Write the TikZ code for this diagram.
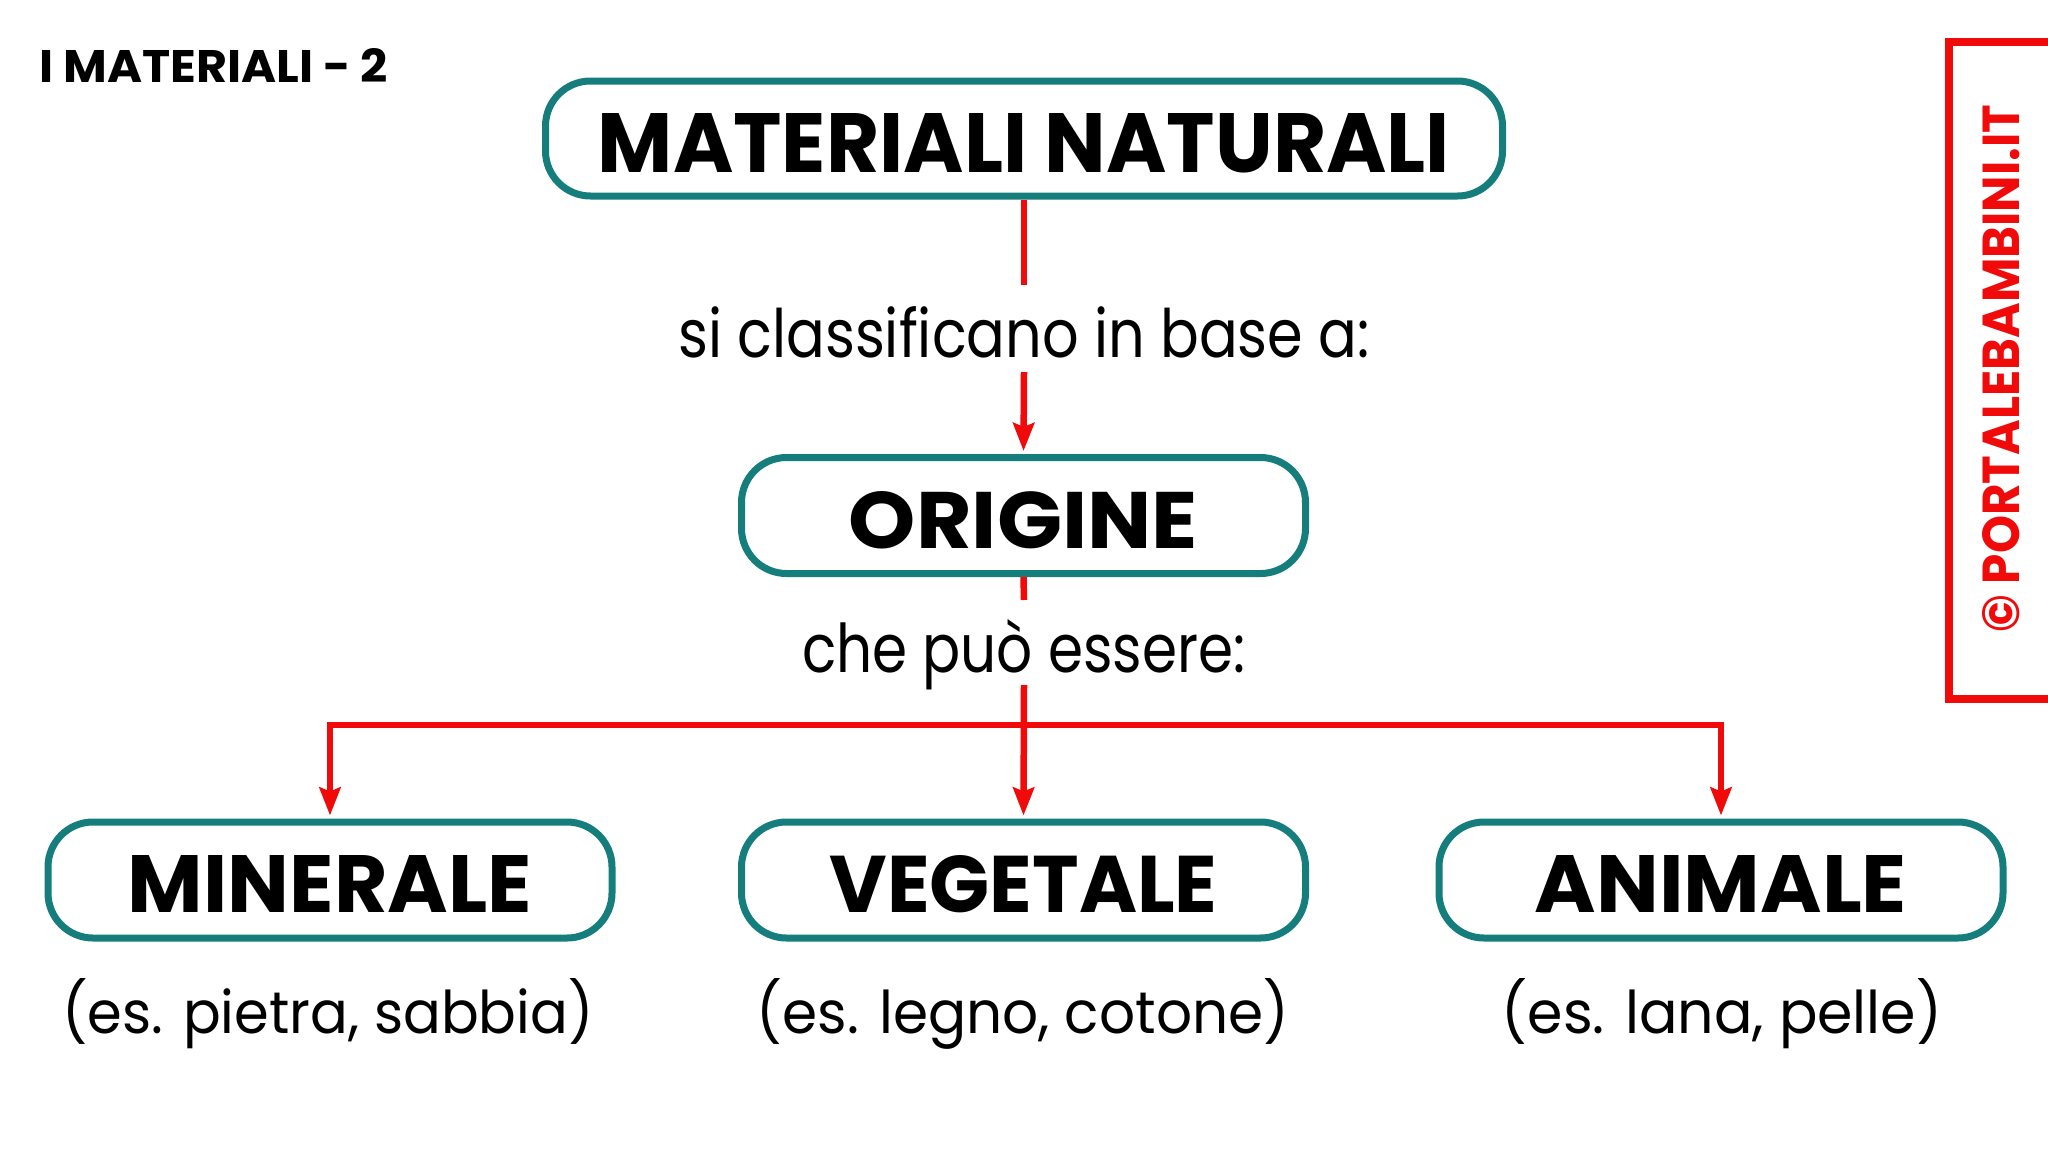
\documentclass[tikz,border=0pt]{standalone}
\usepackage{graphicx}
\usepackage{fontspec}
\setmainfont{Poppins}
\usetikzlibrary{arrows.meta}
\definecolor{boxteal}{HTML}{167D7D}
\definecolor{linered}{HTML}{F00A0A}
\newcommand{\boxlabel}[3]{\raisebox{0pt}[\dimexpr#2+8pt\relax][0pt]{\resizebox{#1}{#2}{\bfseries #3}}}
\begin{document}
\begin{tikzpicture}[x=1pt,y=-1pt,
  conc/.style={draw=boxteal, line width=7pt, rounded corners=45pt, minimum width=564pt, minimum height=116pt, inner sep=0pt},
  conn/.style={draw=linered, line width=6.5pt},
  conarrow/.style={conn, -{Stealth[length=28pt,width=21pt,inset=4pt]}, shorten >=3pt},
  plain/.style={inner sep=0pt, text=black}]
\useasboundingbox (0,0) rectangle (2048,1152);
\fill[white] (0,0) rectangle (2048,1152);

% title
\node[plain, anchor=base west] (title) at (39,82) {\resizebox{349pt}{34pt}{\bfseries I MATERIALI - 2}};

% boxes
\node[conc, minimum width=957pt, minimum height=115pt] (top) at (1024,138.5) {\boxlabel{852pt}{59pt}{MATERIALI NATURALI}};
\node[conc] (orig) at (1023.5,515.5) {\boxlabel{349pt}{57pt}{ORIGINE}};
\node[conc] (min) at (330,880) {\boxlabel{404pt}{57pt}{MINERALE}};
\node[conc] (veg) at (1023.5,880) {\boxlabel{388pt}{57pt}{VEGETALE}};
\node[conc] (ani) at (1721,880) {\boxlabel{372pt}{57pt}{ANIMALE}};

% link texts
\node[plain, anchor=base west] (t1) at (678,357) {\resizebox{691pt}{51pt}{si classificano in base a:}};
\node[plain, anchor=base west] (t2) at (802,672) {\resizebox{443pt}{53pt}{che può essere:}};

% examples
\node[plain, anchor=base] (e1) at (328,1033) {\resizebox{531pt}{55pt}{(es. pietra, sabbia)}};
\node[plain, anchor=base] (e2) at (1023,1033) {\resizebox{532pt}{55pt}{(es. legno, cotone)}};
\node[plain, anchor=base] (e3) at (1722,1033) {\resizebox{440pt}{55pt}{(es. lana, pelle)}};

% connectors
\coordinate (a1) at (1024,285);
\coordinate (a2) at (1024,372);
\coordinate (b1) at (1024,600);
\coordinate (b2) at (1024,685);
\coordinate (j) at (1024,725);
\draw[conn] (top.south) -- (a1);
\draw[conarrow] (a2) -- (orig.north);
\draw[conn] (orig.south) -- (b1);
\draw[conarrow] (b2) -- (veg.north);
\draw[conarrow] (j) -| (min.north);
\draw[conarrow] (j) -| (ani.north);

% watermark
\draw[linered, line width=8pt] (2090,42) -- (1949,42) -- (1949,699) -- (2090,699);
\node[plain, rotate=90, text=linered] (wm) at (2001.5,368.5) {\resizebox{527pt}{37pt}{\bfseries © PORTALEBAMBINI.IT}};
\end{tikzpicture}
\end{document}
